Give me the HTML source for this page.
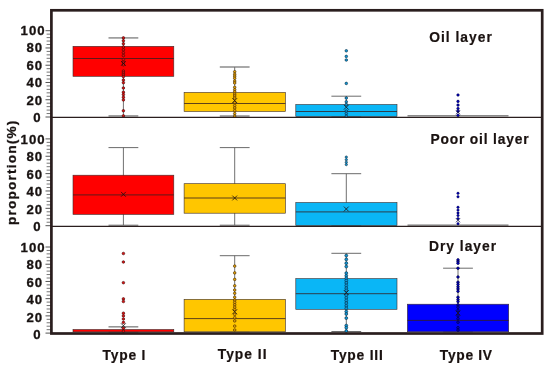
<!DOCTYPE html><html><head><meta charset="utf-8"><style>html,body{margin:0;padding:0;background:#fff}svg{display:block}text{font-family:"Liberation Sans",Arial,sans-serif;font-weight:bold;fill:#1a1210}</style></head><body>
<svg width="550" height="370" viewBox="0 0 550 370">
<rect width="550" height="370" fill="#fff"/>
<line x1="45.5" x2="51" y1="117.00" y2="117.00" stroke="#555" stroke-width="1"/>
<line x1="46.6" x2="51" y1="113.55" y2="113.55" stroke="#686868" stroke-width="0.9"/>
<line x1="46.6" x2="51" y1="110.10" y2="110.10" stroke="#686868" stroke-width="0.9"/>
<line x1="46.6" x2="51" y1="106.64" y2="106.64" stroke="#686868" stroke-width="0.9"/>
<line x1="46.6" x2="51" y1="103.19" y2="103.19" stroke="#686868" stroke-width="0.9"/>
<line x1="45.5" x2="51" y1="99.74" y2="99.74" stroke="#555" stroke-width="1"/>
<line x1="46.6" x2="51" y1="96.29" y2="96.29" stroke="#686868" stroke-width="0.9"/>
<line x1="46.6" x2="51" y1="92.84" y2="92.84" stroke="#686868" stroke-width="0.9"/>
<line x1="46.6" x2="51" y1="89.38" y2="89.38" stroke="#686868" stroke-width="0.9"/>
<line x1="46.6" x2="51" y1="85.93" y2="85.93" stroke="#686868" stroke-width="0.9"/>
<line x1="45.5" x2="51" y1="82.48" y2="82.48" stroke="#555" stroke-width="1"/>
<line x1="46.6" x2="51" y1="79.03" y2="79.03" stroke="#686868" stroke-width="0.9"/>
<line x1="46.6" x2="51" y1="75.58" y2="75.58" stroke="#686868" stroke-width="0.9"/>
<line x1="46.6" x2="51" y1="72.12" y2="72.12" stroke="#686868" stroke-width="0.9"/>
<line x1="46.6" x2="51" y1="68.67" y2="68.67" stroke="#686868" stroke-width="0.9"/>
<line x1="45.5" x2="51" y1="65.22" y2="65.22" stroke="#555" stroke-width="1"/>
<line x1="46.6" x2="51" y1="61.77" y2="61.77" stroke="#686868" stroke-width="0.9"/>
<line x1="46.6" x2="51" y1="58.32" y2="58.32" stroke="#686868" stroke-width="0.9"/>
<line x1="46.6" x2="51" y1="54.86" y2="54.86" stroke="#686868" stroke-width="0.9"/>
<line x1="46.6" x2="51" y1="51.41" y2="51.41" stroke="#686868" stroke-width="0.9"/>
<line x1="45.5" x2="51" y1="47.96" y2="47.96" stroke="#555" stroke-width="1"/>
<line x1="46.6" x2="51" y1="44.51" y2="44.51" stroke="#686868" stroke-width="0.9"/>
<line x1="46.6" x2="51" y1="41.06" y2="41.06" stroke="#686868" stroke-width="0.9"/>
<line x1="46.6" x2="51" y1="37.60" y2="37.60" stroke="#686868" stroke-width="0.9"/>
<line x1="46.6" x2="51" y1="34.15" y2="34.15" stroke="#686868" stroke-width="0.9"/>
<line x1="45.5" x2="51" y1="30.70" y2="30.70" stroke="#555" stroke-width="1"/>
<text x="20.5" y="35.05" font-size="13.2" letter-spacing="1.1" stroke="#111" stroke-width="0.3">100</text>
<text x="26.4" y="51.65" font-size="13.2" letter-spacing="1.1" stroke="#111" stroke-width="0.3">80</text>
<text x="26.4" y="69.65" font-size="13.2" letter-spacing="1.1" stroke="#111" stroke-width="0.3">60</text>
<text x="26.4" y="86.65" font-size="13.2" letter-spacing="1.1" stroke="#111" stroke-width="0.3">40</text>
<text x="26.4" y="104.75" font-size="13.2" letter-spacing="1.1" stroke="#111" stroke-width="0.3">20</text>
<text x="33.2" y="121.65" font-size="13.2" letter-spacing="1.1" stroke="#111" stroke-width="0.3">0</text>
<line x1="45.5" x2="51" y1="225.70" y2="225.70" stroke="#555" stroke-width="1"/>
<line x1="46.6" x2="51" y1="222.23" y2="222.23" stroke="#686868" stroke-width="0.9"/>
<line x1="46.6" x2="51" y1="218.76" y2="218.76" stroke="#686868" stroke-width="0.9"/>
<line x1="46.6" x2="51" y1="215.28" y2="215.28" stroke="#686868" stroke-width="0.9"/>
<line x1="46.6" x2="51" y1="211.81" y2="211.81" stroke="#686868" stroke-width="0.9"/>
<line x1="45.5" x2="51" y1="208.34" y2="208.34" stroke="#555" stroke-width="1"/>
<line x1="46.6" x2="51" y1="204.87" y2="204.87" stroke="#686868" stroke-width="0.9"/>
<line x1="46.6" x2="51" y1="201.40" y2="201.40" stroke="#686868" stroke-width="0.9"/>
<line x1="46.6" x2="51" y1="197.92" y2="197.92" stroke="#686868" stroke-width="0.9"/>
<line x1="46.6" x2="51" y1="194.45" y2="194.45" stroke="#686868" stroke-width="0.9"/>
<line x1="45.5" x2="51" y1="190.98" y2="190.98" stroke="#555" stroke-width="1"/>
<line x1="46.6" x2="51" y1="187.51" y2="187.51" stroke="#686868" stroke-width="0.9"/>
<line x1="46.6" x2="51" y1="184.04" y2="184.04" stroke="#686868" stroke-width="0.9"/>
<line x1="46.6" x2="51" y1="180.56" y2="180.56" stroke="#686868" stroke-width="0.9"/>
<line x1="46.6" x2="51" y1="177.09" y2="177.09" stroke="#686868" stroke-width="0.9"/>
<line x1="45.5" x2="51" y1="173.62" y2="173.62" stroke="#555" stroke-width="1"/>
<line x1="46.6" x2="51" y1="170.15" y2="170.15" stroke="#686868" stroke-width="0.9"/>
<line x1="46.6" x2="51" y1="166.68" y2="166.68" stroke="#686868" stroke-width="0.9"/>
<line x1="46.6" x2="51" y1="163.20" y2="163.20" stroke="#686868" stroke-width="0.9"/>
<line x1="46.6" x2="51" y1="159.73" y2="159.73" stroke="#686868" stroke-width="0.9"/>
<line x1="45.5" x2="51" y1="156.26" y2="156.26" stroke="#555" stroke-width="1"/>
<line x1="46.6" x2="51" y1="152.79" y2="152.79" stroke="#686868" stroke-width="0.9"/>
<line x1="46.6" x2="51" y1="149.32" y2="149.32" stroke="#686868" stroke-width="0.9"/>
<line x1="46.6" x2="51" y1="145.84" y2="145.84" stroke="#686868" stroke-width="0.9"/>
<line x1="46.6" x2="51" y1="142.37" y2="142.37" stroke="#686868" stroke-width="0.9"/>
<line x1="45.5" x2="51" y1="138.90" y2="138.90" stroke="#555" stroke-width="1"/>
<text x="20.5" y="144.35" font-size="13.2" letter-spacing="1.1" stroke="#111" stroke-width="0.3">100</text>
<text x="26.4" y="160.95" font-size="13.2" letter-spacing="1.1" stroke="#111" stroke-width="0.3">80</text>
<text x="26.4" y="178.95" font-size="13.2" letter-spacing="1.1" stroke="#111" stroke-width="0.3">60</text>
<text x="26.4" y="195.95" font-size="13.2" letter-spacing="1.1" stroke="#111" stroke-width="0.3">40</text>
<text x="26.4" y="214.05" font-size="13.2" letter-spacing="1.1" stroke="#111" stroke-width="0.3">20</text>
<text x="33.2" y="230.95" font-size="13.2" letter-spacing="1.1" stroke="#111" stroke-width="0.3">0</text>
<line x1="45.5" x2="51" y1="333.10" y2="333.10" stroke="#555" stroke-width="1"/>
<line x1="46.6" x2="51" y1="329.66" y2="329.66" stroke="#686868" stroke-width="0.9"/>
<line x1="46.6" x2="51" y1="326.21" y2="326.21" stroke="#686868" stroke-width="0.9"/>
<line x1="46.6" x2="51" y1="322.77" y2="322.77" stroke="#686868" stroke-width="0.9"/>
<line x1="46.6" x2="51" y1="319.32" y2="319.32" stroke="#686868" stroke-width="0.9"/>
<line x1="45.5" x2="51" y1="315.88" y2="315.88" stroke="#555" stroke-width="1"/>
<line x1="46.6" x2="51" y1="312.44" y2="312.44" stroke="#686868" stroke-width="0.9"/>
<line x1="46.6" x2="51" y1="308.99" y2="308.99" stroke="#686868" stroke-width="0.9"/>
<line x1="46.6" x2="51" y1="305.55" y2="305.55" stroke="#686868" stroke-width="0.9"/>
<line x1="46.6" x2="51" y1="302.10" y2="302.10" stroke="#686868" stroke-width="0.9"/>
<line x1="45.5" x2="51" y1="298.66" y2="298.66" stroke="#555" stroke-width="1"/>
<line x1="46.6" x2="51" y1="295.22" y2="295.22" stroke="#686868" stroke-width="0.9"/>
<line x1="46.6" x2="51" y1="291.77" y2="291.77" stroke="#686868" stroke-width="0.9"/>
<line x1="46.6" x2="51" y1="288.33" y2="288.33" stroke="#686868" stroke-width="0.9"/>
<line x1="46.6" x2="51" y1="284.88" y2="284.88" stroke="#686868" stroke-width="0.9"/>
<line x1="45.5" x2="51" y1="281.44" y2="281.44" stroke="#555" stroke-width="1"/>
<line x1="46.6" x2="51" y1="278.00" y2="278.00" stroke="#686868" stroke-width="0.9"/>
<line x1="46.6" x2="51" y1="274.55" y2="274.55" stroke="#686868" stroke-width="0.9"/>
<line x1="46.6" x2="51" y1="271.11" y2="271.11" stroke="#686868" stroke-width="0.9"/>
<line x1="46.6" x2="51" y1="267.66" y2="267.66" stroke="#686868" stroke-width="0.9"/>
<line x1="45.5" x2="51" y1="264.22" y2="264.22" stroke="#555" stroke-width="1"/>
<line x1="46.6" x2="51" y1="260.78" y2="260.78" stroke="#686868" stroke-width="0.9"/>
<line x1="46.6" x2="51" y1="257.33" y2="257.33" stroke="#686868" stroke-width="0.9"/>
<line x1="46.6" x2="51" y1="253.89" y2="253.89" stroke="#686868" stroke-width="0.9"/>
<line x1="46.6" x2="51" y1="250.44" y2="250.44" stroke="#686868" stroke-width="0.9"/>
<line x1="45.5" x2="51" y1="247.00" y2="247.00" stroke="#555" stroke-width="1"/>
<text x="20.5" y="252.35" font-size="13.2" letter-spacing="1.1" stroke="#111" stroke-width="0.3">100</text>
<text x="26.4" y="268.95" font-size="13.2" letter-spacing="1.1" stroke="#111" stroke-width="0.3">80</text>
<text x="26.4" y="286.95" font-size="13.2" letter-spacing="1.1" stroke="#111" stroke-width="0.3">60</text>
<text x="26.4" y="303.95" font-size="13.2" letter-spacing="1.1" stroke="#111" stroke-width="0.3">40</text>
<text x="26.4" y="322.05" font-size="13.2" letter-spacing="1.1" stroke="#111" stroke-width="0.3">20</text>
<text x="33.2" y="338.95" font-size="13.2" letter-spacing="1.1" stroke="#111" stroke-width="0.3">0</text>
<line x1="123.4" x2="123.4" y1="37.9" y2="115.9" stroke="#707070" stroke-width="1.0"/>
<line x1="108.5" x2="138.3" y1="37.9" y2="37.9" stroke="#959595" stroke-width="1.6"/>
<line x1="108.5" x2="138.3" y1="115.9" y2="115.9" stroke="#959595" stroke-width="1.6"/>
<rect x="73.0" y="46.3" width="100.8" height="30.0" fill="#ff0000" stroke="#3a2c2c" stroke-width="0.6"/>
<line x1="73.0" x2="173.8" y1="58.5" y2="58.5" stroke="#352020" stroke-width="0.8"/>
<circle cx="123.4" cy="37.9" r="1.3" fill="#e01010" stroke="#3a0808" stroke-width="0.6"/>
<circle cx="123.4" cy="40.8" r="1.3" fill="#e01010" stroke="#3a0808" stroke-width="0.6"/>
<circle cx="123.4" cy="43.8" r="1.3" fill="#e01010" stroke="#3a0808" stroke-width="0.6"/>
<circle cx="123.4" cy="47" r="1.3" fill="#e01010" stroke="#3a0808" stroke-width="0.6"/>
<circle cx="123.4" cy="49.8" r="1.3" fill="#e01010" stroke="#3a0808" stroke-width="0.6"/>
<circle cx="123.4" cy="52.7" r="1.3" fill="#e01010" stroke="#3a0808" stroke-width="0.6"/>
<circle cx="123.4" cy="55.6" r="1.3" fill="#e01010" stroke="#3a0808" stroke-width="0.6"/>
<circle cx="123.4" cy="59.6" r="1.3" fill="#e01010" stroke="#3a0808" stroke-width="0.6"/>
<circle cx="123.4" cy="62.4" r="1.3" fill="#e01010" stroke="#3a0808" stroke-width="0.6"/>
<circle cx="123.4" cy="64.8" r="1.3" fill="#e01010" stroke="#3a0808" stroke-width="0.6"/>
<circle cx="123.4" cy="71.1" r="1.3" fill="#e01010" stroke="#3a0808" stroke-width="0.6"/>
<circle cx="123.4" cy="73.1" r="1.3" fill="#e01010" stroke="#3a0808" stroke-width="0.6"/>
<circle cx="123.4" cy="74.9" r="1.3" fill="#e01010" stroke="#3a0808" stroke-width="0.6"/>
<circle cx="123.4" cy="76.6" r="1.3" fill="#e01010" stroke="#3a0808" stroke-width="0.6"/>
<circle cx="123.4" cy="80.1" r="1.3" fill="#e01010" stroke="#3a0808" stroke-width="0.6"/>
<circle cx="123.4" cy="82.7" r="1.3" fill="#e01010" stroke="#3a0808" stroke-width="0.6"/>
<circle cx="123.4" cy="88" r="1.3" fill="#e01010" stroke="#3a0808" stroke-width="0.6"/>
<circle cx="123.4" cy="92.2" r="1.3" fill="#e01010" stroke="#3a0808" stroke-width="0.6"/>
<circle cx="123.4" cy="94.6" r="1.3" fill="#e01010" stroke="#3a0808" stroke-width="0.6"/>
<circle cx="123.4" cy="97.3" r="1.3" fill="#e01010" stroke="#3a0808" stroke-width="0.6"/>
<circle cx="123.4" cy="99.9" r="1.3" fill="#e01010" stroke="#3a0808" stroke-width="0.6"/>
<circle cx="123.4" cy="110.8" r="1.3" fill="#e01010" stroke="#3a0808" stroke-width="0.6"/>
<circle cx="123.4" cy="115.9" r="1.3" fill="#e01010" stroke="#3a0808" stroke-width="0.6"/>
<path d="M121.0 61.0L125.80000000000001 65.8M121.0 65.8L125.80000000000001 61.0" stroke="#1a1010" stroke-width="0.8" fill="none"/>
<line x1="234.7" x2="234.7" y1="67.0" y2="116.0" stroke="#707070" stroke-width="1.0"/>
<line x1="219.79999999999998" x2="249.6" y1="67.0" y2="67.0" stroke="#707070" stroke-width="1.2"/>
<line x1="219.79999999999998" x2="249.6" y1="116.0" y2="116.0" stroke="#959595" stroke-width="1.6"/>
<rect x="184.1" y="92.4" width="101.3" height="19.1" fill="#ffc600" stroke="#3a2c2c" stroke-width="0.6"/>
<line x1="184.1" x2="285.4" y1="103.5" y2="103.5" stroke="#352020" stroke-width="0.8"/>
<circle cx="234.7" cy="71.7" r="1.3" fill="#eaa400" stroke="#3a2404" stroke-width="0.6"/>
<circle cx="234.7" cy="74.3" r="1.3" fill="#eaa400" stroke="#3a2404" stroke-width="0.6"/>
<circle cx="234.7" cy="76.2" r="1.3" fill="#eaa400" stroke="#3a2404" stroke-width="0.6"/>
<circle cx="234.7" cy="78.3" r="1.3" fill="#eaa400" stroke="#3a2404" stroke-width="0.6"/>
<circle cx="234.7" cy="81.1" r="1.3" fill="#eaa400" stroke="#3a2404" stroke-width="0.6"/>
<circle cx="234.7" cy="83" r="1.3" fill="#eaa400" stroke="#3a2404" stroke-width="0.6"/>
<circle cx="234.7" cy="87.3" r="1.3" fill="#eaa400" stroke="#3a2404" stroke-width="0.6"/>
<circle cx="234.7" cy="89.7" r="1.3" fill="#eaa400" stroke="#3a2404" stroke-width="0.6"/>
<circle cx="234.7" cy="91.8" r="1.3" fill="#eaa400" stroke="#3a2404" stroke-width="0.6"/>
<circle cx="234.7" cy="94.1" r="1.3" fill="#eaa400" stroke="#3a2404" stroke-width="0.6"/>
<circle cx="234.7" cy="96" r="1.3" fill="#eaa400" stroke="#3a2404" stroke-width="0.6"/>
<circle cx="234.7" cy="98.1" r="1.3" fill="#eaa400" stroke="#3a2404" stroke-width="0.6"/>
<circle cx="234.7" cy="102.5" r="1.3" fill="#eaa400" stroke="#3a2404" stroke-width="0.6"/>
<circle cx="234.7" cy="105.5" r="1.3" fill="#eaa400" stroke="#3a2404" stroke-width="0.6"/>
<circle cx="234.7" cy="107.9" r="1.3" fill="#eaa400" stroke="#3a2404" stroke-width="0.6"/>
<circle cx="234.7" cy="110.6" r="1.3" fill="#eaa400" stroke="#3a2404" stroke-width="0.6"/>
<circle cx="234.7" cy="113.6" r="1.3" fill="#eaa400" stroke="#3a2404" stroke-width="0.6"/>
<circle cx="234.7" cy="116.2" r="1.3" fill="#eaa400" stroke="#3a2404" stroke-width="0.6"/>
<path d="M232.29999999999998 98.19999999999999L237.1 103.0M232.29999999999998 103.0L237.1 98.19999999999999" stroke="#1a1010" stroke-width="0.8" fill="none"/>
<line x1="346.3" x2="346.3" y1="96.2" y2="116.2" stroke="#707070" stroke-width="1.0"/>
<line x1="331.40000000000003" x2="361.2" y1="96.2" y2="96.2" stroke="#5a5a5a" stroke-width="0.9"/>
<line x1="331.40000000000003" x2="361.2" y1="116.2" y2="116.2" stroke="#959595" stroke-width="1.6"/>
<rect x="295.8" y="104.5" width="101.2" height="12.1" fill="#0ab6f6" stroke="#3a2c2c" stroke-width="0.6"/>
<line x1="295.8" x2="397.0" y1="111.5" y2="111.5" stroke="#352020" stroke-width="0.8"/>
<circle cx="346.3" cy="50.8" r="1.3" fill="#1098d8" stroke="#06283c" stroke-width="0.6"/>
<circle cx="346.3" cy="56.4" r="1.3" fill="#1098d8" stroke="#06283c" stroke-width="0.6"/>
<circle cx="346.3" cy="60" r="1.3" fill="#1098d8" stroke="#06283c" stroke-width="0.6"/>
<circle cx="346.3" cy="83.4" r="1.3" fill="#1098d8" stroke="#06283c" stroke-width="0.6"/>
<circle cx="346.3" cy="98" r="1.3" fill="#1098d8" stroke="#06283c" stroke-width="0.6"/>
<circle cx="346.3" cy="101.8" r="1.3" fill="#1098d8" stroke="#06283c" stroke-width="0.6"/>
<circle cx="346.3" cy="104.5" r="1.3" fill="#1098d8" stroke="#06283c" stroke-width="0.6"/>
<circle cx="346.3" cy="111" r="1.3" fill="#1098d8" stroke="#06283c" stroke-width="0.6"/>
<circle cx="346.3" cy="113.6" r="1.3" fill="#1098d8" stroke="#06283c" stroke-width="0.6"/>
<circle cx="346.3" cy="116.2" r="1.3" fill="#1098d8" stroke="#06283c" stroke-width="0.6"/>
<path d="M343.90000000000003 104.8L348.7 109.60000000000001M343.90000000000003 109.60000000000001L348.7 104.8" stroke="#1a1010" stroke-width="0.8" fill="none"/>
<line x1="407.5" x2="508.5" y1="115.8" y2="115.8" stroke="#8a8a8a" stroke-width="1.6"/>
<circle cx="458.0" cy="95" r="1.3" fill="#0000b8" stroke="#000040" stroke-width="0.45"/>
<circle cx="458.0" cy="101.4" r="1.3" fill="#0000b8" stroke="#000040" stroke-width="0.45"/>
<circle cx="458.0" cy="105.1" r="1.3" fill="#0000b8" stroke="#000040" stroke-width="0.45"/>
<circle cx="458.0" cy="108.6" r="1.3" fill="#0000b8" stroke="#000040" stroke-width="0.45"/>
<circle cx="458.0" cy="111.2" r="1.3" fill="#0000b8" stroke="#000040" stroke-width="0.45"/>
<circle cx="458.0" cy="115.4" r="1.3" fill="#0000b8" stroke="#000040" stroke-width="0.45"/>
<path d="M456.0 110.3L460.0 114.3M456.0 114.3L460.0 110.3" stroke="#000040" stroke-width="0.8" fill="none"/>
<line x1="123.4" x2="123.4" y1="147.6" y2="225.2" stroke="#707070" stroke-width="1.0"/>
<line x1="108.5" x2="138.3" y1="147.6" y2="147.6" stroke="#5a5a5a" stroke-width="0.9"/>
<line x1="108.5" x2="138.3" y1="225.2" y2="225.2" stroke="#5a5a5a" stroke-width="0.9"/>
<rect x="73.0" y="175.2" width="100.8" height="39.2" fill="#ff0000" stroke="#3a2c2c" stroke-width="0.6"/>
<line x1="73.0" x2="173.8" y1="194.9" y2="194.9" stroke="#352020" stroke-width="0.8"/>
<path d="M121.0 191.9L125.80000000000001 196.70000000000002M121.0 196.70000000000002L125.80000000000001 191.9" stroke="#1a1010" stroke-width="0.8" fill="none"/>
<line x1="234.7" x2="234.7" y1="147.6" y2="225.2" stroke="#707070" stroke-width="1.0"/>
<line x1="219.79999999999998" x2="249.6" y1="147.6" y2="147.6" stroke="#5a5a5a" stroke-width="0.9"/>
<line x1="219.79999999999998" x2="249.6" y1="225.2" y2="225.2" stroke="#5a5a5a" stroke-width="0.9"/>
<rect x="184.1" y="183.7" width="101.3" height="29.5" fill="#ffc600" stroke="#3a2c2c" stroke-width="0.6"/>
<line x1="184.1" x2="285.4" y1="198.0" y2="198.0" stroke="#352020" stroke-width="0.8"/>
<path d="M232.29999999999998 195.6L237.1 200.4M232.29999999999998 200.4L237.1 195.6" stroke="#1a1010" stroke-width="0.8" fill="none"/>
<line x1="346.3" x2="346.3" y1="173.7" y2="225.3" stroke="#707070" stroke-width="1.0"/>
<line x1="331.40000000000003" x2="361.2" y1="173.7" y2="173.7" stroke="#5a5a5a" stroke-width="0.9"/>
<line x1="331.40000000000003" x2="361.2" y1="225.3" y2="225.3" stroke="#5a5a5a" stroke-width="0.9"/>
<rect x="295.8" y="202.5" width="101.2" height="23.1" fill="#0ab6f6" stroke="#3a2c2c" stroke-width="0.6"/>
<line x1="295.8" x2="397.0" y1="211.9" y2="211.9" stroke="#352020" stroke-width="0.8"/>
<circle cx="346.3" cy="157.1" r="1.15" fill="#1098d8" stroke="#06283c" stroke-width="0.6"/>
<circle cx="346.3" cy="159.7" r="1.15" fill="#1098d8" stroke="#06283c" stroke-width="0.6"/>
<circle cx="346.3" cy="162.3" r="1.15" fill="#1098d8" stroke="#06283c" stroke-width="0.6"/>
<circle cx="346.3" cy="164.6" r="1.15" fill="#1098d8" stroke="#06283c" stroke-width="0.6"/>
<path d="M343.90000000000003 206.6L348.7 211.4M343.90000000000003 211.4L348.7 206.6" stroke="#1a1010" stroke-width="0.8" fill="none"/>
<line x1="407.5" x2="508.5" y1="225.1" y2="225.1" stroke="#555" stroke-width="1.0"/>
<circle cx="458.0" cy="193.3" r="1.2" fill="#0000b8" stroke="#000040" stroke-width="0.45"/>
<circle cx="458.0" cy="196.8" r="1.2" fill="#0000b8" stroke="#000040" stroke-width="0.45"/>
<circle cx="458.0" cy="207.3" r="1.2" fill="#0000b8" stroke="#000040" stroke-width="0.45"/>
<circle cx="458.0" cy="210.1" r="1.2" fill="#0000b8" stroke="#000040" stroke-width="0.45"/>
<circle cx="458.0" cy="212.9" r="1.2" fill="#0000b8" stroke="#000040" stroke-width="0.45"/>
<circle cx="458.0" cy="215.5" r="1.2" fill="#0000b8" stroke="#000040" stroke-width="0.45"/>
<circle cx="458.0" cy="218.6" r="1.2" fill="#0000b8" stroke="#000040" stroke-width="0.45"/>
<circle cx="458.0" cy="223.8" r="1.2" fill="#0000b8" stroke="#000040" stroke-width="0.45"/>
<path d="M456.0 218.3L460.0 222.3M456.0 222.3L460.0 218.3" stroke="#000040" stroke-width="0.8" fill="none"/>
<line x1="123.4" x2="123.4" y1="326.8" y2="332.0" stroke="#707070" stroke-width="1.0"/>
<line x1="108.5" x2="138.3" y1="326.8" y2="326.8" stroke="#959595" stroke-width="1.6"/>
<line x1="108.5" x2="138.3" y1="332.0" y2="332.0" stroke="#5a5a5a" stroke-width="0.9"/>
<rect x="73.0" y="329.5" width="100.8" height="2.4" fill="#ff0000" stroke="#3a2c2c" stroke-width="0.6"/>
<circle cx="123.4" cy="253.5" r="1.3" fill="#e01010" stroke="#3a0808" stroke-width="0.6"/>
<circle cx="123.4" cy="262" r="1.3" fill="#e01010" stroke="#3a0808" stroke-width="0.6"/>
<circle cx="123.4" cy="282.7" r="1.3" fill="#e01010" stroke="#3a0808" stroke-width="0.6"/>
<circle cx="123.4" cy="298.9" r="1.3" fill="#e01010" stroke="#3a0808" stroke-width="0.6"/>
<circle cx="123.4" cy="301.5" r="1.3" fill="#e01010" stroke="#3a0808" stroke-width="0.6"/>
<circle cx="123.4" cy="313.2" r="1.3" fill="#e01010" stroke="#3a0808" stroke-width="0.6"/>
<circle cx="123.4" cy="315.9" r="1.3" fill="#e01010" stroke="#3a0808" stroke-width="0.6"/>
<circle cx="123.4" cy="319" r="1.3" fill="#e01010" stroke="#3a0808" stroke-width="0.6"/>
<circle cx="123.4" cy="322.4" r="1.3" fill="#e01010" stroke="#3a0808" stroke-width="0.6"/>
<circle cx="123.4" cy="328.3" r="1.3" fill="#e01010" stroke="#3a0808" stroke-width="0.6"/>
<circle cx="123.4" cy="331.2" r="1.3" fill="#e01010" stroke="#3a0808" stroke-width="0.6"/>
<path d="M121.0 323.3L125.80000000000001 328.09999999999997M121.0 328.09999999999997L125.80000000000001 323.3" stroke="#1a1010" stroke-width="0.8" fill="none"/>
<line x1="234.7" x2="234.7" y1="255.7" y2="331.8" stroke="#707070" stroke-width="1.0"/>
<line x1="219.79999999999998" x2="249.6" y1="255.7" y2="255.7" stroke="#5a5a5a" stroke-width="0.9"/>
<line x1="219.79999999999998" x2="249.6" y1="331.8" y2="331.8" stroke="#5a5a5a" stroke-width="0.9"/>
<rect x="184.1" y="299.3" width="101.3" height="32.5" fill="#ffc600" stroke="#3a2c2c" stroke-width="0.6"/>
<line x1="184.1" x2="285.4" y1="318.6" y2="318.6" stroke="#352020" stroke-width="0.8"/>
<circle cx="234.7" cy="266.1" r="1.3" fill="#eaa400" stroke="#3a2404" stroke-width="0.6"/>
<circle cx="234.7" cy="272.9" r="1.3" fill="#eaa400" stroke="#3a2404" stroke-width="0.6"/>
<circle cx="234.7" cy="279.4" r="1.3" fill="#eaa400" stroke="#3a2404" stroke-width="0.6"/>
<circle cx="234.7" cy="285.8" r="1.3" fill="#eaa400" stroke="#3a2404" stroke-width="0.6"/>
<circle cx="234.7" cy="290" r="1.3" fill="#eaa400" stroke="#3a2404" stroke-width="0.6"/>
<circle cx="234.7" cy="293.3" r="1.3" fill="#eaa400" stroke="#3a2404" stroke-width="0.6"/>
<circle cx="234.7" cy="297.2" r="1.3" fill="#eaa400" stroke="#3a2404" stroke-width="0.6"/>
<circle cx="234.7" cy="300.1" r="1.3" fill="#eaa400" stroke="#3a2404" stroke-width="0.6"/>
<circle cx="234.7" cy="302.4" r="1.3" fill="#eaa400" stroke="#3a2404" stroke-width="0.6"/>
<circle cx="234.7" cy="304.8" r="1.3" fill="#eaa400" stroke="#3a2404" stroke-width="0.6"/>
<circle cx="234.7" cy="307.2" r="1.3" fill="#eaa400" stroke="#3a2404" stroke-width="0.6"/>
<circle cx="234.7" cy="309.6" r="1.3" fill="#eaa400" stroke="#3a2404" stroke-width="0.6"/>
<circle cx="234.7" cy="314.4" r="1.3" fill="#eaa400" stroke="#3a2404" stroke-width="0.6"/>
<circle cx="234.7" cy="317.7" r="1.3" fill="#eaa400" stroke="#3a2404" stroke-width="0.6"/>
<circle cx="234.7" cy="320.9" r="1.3" fill="#eaa400" stroke="#3a2404" stroke-width="0.6"/>
<circle cx="234.7" cy="326.1" r="1.3" fill="#eaa400" stroke="#3a2404" stroke-width="0.6"/>
<circle cx="234.7" cy="330" r="1.3" fill="#eaa400" stroke="#3a2404" stroke-width="0.6"/>
<path d="M232.29999999999998 309.40000000000003L237.1 314.2M232.29999999999998 314.2L237.1 309.40000000000003" stroke="#1a1010" stroke-width="0.8" fill="none"/>
<line x1="346.3" x2="346.3" y1="253.3" y2="331.5" stroke="#707070" stroke-width="1.0"/>
<line x1="331.40000000000003" x2="361.2" y1="253.3" y2="253.3" stroke="#5a5a5a" stroke-width="0.9"/>
<line x1="331.40000000000003" x2="361.2" y1="331.5" y2="331.5" stroke="#5a5a5a" stroke-width="0.9"/>
<rect x="295.8" y="278.6" width="101.2" height="30.7" fill="#0ab6f6" stroke="#3a2c2c" stroke-width="0.6"/>
<line x1="295.8" x2="397.0" y1="293.7" y2="293.7" stroke="#352020" stroke-width="0.8"/>
<circle cx="346.3" cy="255.6" r="1.45" fill="#1098d8" stroke="#06283c" stroke-width="0.6"/>
<circle cx="346.3" cy="259.4" r="1.45" fill="#1098d8" stroke="#06283c" stroke-width="0.6"/>
<circle cx="346.3" cy="263.2" r="1.45" fill="#1098d8" stroke="#06283c" stroke-width="0.6"/>
<circle cx="346.3" cy="266.6" r="1.45" fill="#1098d8" stroke="#06283c" stroke-width="0.6"/>
<circle cx="346.3" cy="273.1" r="1.45" fill="#1098d8" stroke="#06283c" stroke-width="0.6"/>
<circle cx="346.3" cy="275.8" r="1.45" fill="#1098d8" stroke="#06283c" stroke-width="0.6"/>
<circle cx="346.3" cy="278.3" r="1.45" fill="#1098d8" stroke="#06283c" stroke-width="0.6"/>
<circle cx="346.3" cy="280.6" r="1.45" fill="#1098d8" stroke="#06283c" stroke-width="0.6"/>
<circle cx="346.3" cy="282.9" r="1.45" fill="#1098d8" stroke="#06283c" stroke-width="0.6"/>
<circle cx="346.3" cy="285.5" r="1.45" fill="#1098d8" stroke="#06283c" stroke-width="0.6"/>
<circle cx="346.3" cy="288.2" r="1.45" fill="#1098d8" stroke="#06283c" stroke-width="0.6"/>
<circle cx="346.3" cy="290.5" r="1.45" fill="#1098d8" stroke="#06283c" stroke-width="0.6"/>
<circle cx="346.3" cy="295.2" r="1.45" fill="#1098d8" stroke="#06283c" stroke-width="0.6"/>
<circle cx="346.3" cy="297.8" r="1.45" fill="#1098d8" stroke="#06283c" stroke-width="0.6"/>
<circle cx="346.3" cy="300.5" r="1.45" fill="#1098d8" stroke="#06283c" stroke-width="0.6"/>
<circle cx="346.3" cy="303.1" r="1.45" fill="#1098d8" stroke="#06283c" stroke-width="0.6"/>
<circle cx="346.3" cy="305.8" r="1.45" fill="#1098d8" stroke="#06283c" stroke-width="0.6"/>
<circle cx="346.3" cy="308.4" r="1.45" fill="#1098d8" stroke="#06283c" stroke-width="0.6"/>
<circle cx="346.3" cy="311.6" r="1.45" fill="#1098d8" stroke="#06283c" stroke-width="0.6"/>
<circle cx="346.3" cy="314" r="1.45" fill="#1098d8" stroke="#06283c" stroke-width="0.6"/>
<circle cx="346.3" cy="318.1" r="1.45" fill="#1098d8" stroke="#06283c" stroke-width="0.6"/>
<circle cx="346.3" cy="325.6" r="1.45" fill="#1098d8" stroke="#06283c" stroke-width="0.6"/>
<circle cx="346.3" cy="327.7" r="1.45" fill="#1098d8" stroke="#06283c" stroke-width="0.6"/>
<circle cx="346.3" cy="331.0" r="1.45" fill="#1098d8" stroke="#06283c" stroke-width="0.6"/>
<path d="M343.90000000000003 290.20000000000005L348.7 295.0M343.90000000000003 295.0L348.7 290.20000000000005" stroke="#1a1010" stroke-width="0.8" fill="none"/>
<line x1="458.0" x2="458.0" y1="268.2" y2="331.8" stroke="#707070" stroke-width="1.0"/>
<line x1="443.1" x2="472.9" y1="268.2" y2="268.2" stroke="#5a5a5a" stroke-width="0.9"/>
<line x1="443.1" x2="472.9" y1="331.8" y2="331.8" stroke="#5a5a5a" stroke-width="0.9"/>
<rect x="407.4" y="304.2" width="101.3" height="27.6" fill="#0000ff" stroke="#3a2c2c" stroke-width="0.6"/>
<line x1="407.4" x2="508.7" y1="320.4" y2="320.4" stroke="#352020" stroke-width="0.8"/>
<circle cx="458.0" cy="259.9" r="1.3" fill="#0000c8" stroke="#000030" stroke-width="0.6"/>
<circle cx="458.0" cy="261.6" r="1.3" fill="#0000c8" stroke="#000030" stroke-width="0.6"/>
<circle cx="458.0" cy="263.3" r="1.3" fill="#0000c8" stroke="#000030" stroke-width="0.6"/>
<circle cx="458.0" cy="268.2" r="1.3" fill="#0000c8" stroke="#000030" stroke-width="0.6"/>
<circle cx="458.0" cy="277" r="1.3" fill="#0000c8" stroke="#000030" stroke-width="0.6"/>
<circle cx="458.0" cy="282.2" r="1.3" fill="#0000c8" stroke="#000030" stroke-width="0.6"/>
<circle cx="458.0" cy="284.4" r="1.3" fill="#0000c8" stroke="#000030" stroke-width="0.6"/>
<circle cx="458.0" cy="286.8" r="1.3" fill="#0000c8" stroke="#000030" stroke-width="0.6"/>
<circle cx="458.0" cy="288.9" r="1.3" fill="#0000c8" stroke="#000030" stroke-width="0.6"/>
<circle cx="458.0" cy="291.3" r="1.3" fill="#0000c8" stroke="#000030" stroke-width="0.6"/>
<circle cx="458.0" cy="297.2" r="1.3" fill="#0000c8" stroke="#000030" stroke-width="0.6"/>
<circle cx="458.0" cy="299.6" r="1.3" fill="#0000c8" stroke="#000030" stroke-width="0.6"/>
<circle cx="458.0" cy="301.6" r="1.3" fill="#0000c8" stroke="#000030" stroke-width="0.6"/>
<circle cx="458.0" cy="304.9" r="1.3" fill="#0000c8" stroke="#000030" stroke-width="0.6"/>
<circle cx="458.0" cy="307.2" r="1.3" fill="#0000c8" stroke="#000030" stroke-width="0.6"/>
<circle cx="458.0" cy="310.3" r="1.3" fill="#0000c8" stroke="#000030" stroke-width="0.6"/>
<circle cx="458.0" cy="315.8" r="1.3" fill="#0000c8" stroke="#000030" stroke-width="0.6"/>
<circle cx="458.0" cy="318.7" r="1.3" fill="#0000c8" stroke="#000030" stroke-width="0.6"/>
<circle cx="458.0" cy="322.2" r="1.3" fill="#0000c8" stroke="#000030" stroke-width="0.6"/>
<circle cx="458.0" cy="327.7" r="1.3" fill="#0000c8" stroke="#000030" stroke-width="0.6"/>
<circle cx="458.0" cy="330.1" r="1.3" fill="#0000c8" stroke="#000030" stroke-width="0.6"/>
<path d="M455.6 310.6L460.4 315.4M455.6 315.4L460.4 310.6" stroke="#1a1010" stroke-width="0.8" fill="none"/>
<line x1="51" x2="542" y1="117.35" y2="117.35" stroke="#2a1e1e" stroke-width="1.25"/>
<line x1="51" x2="542" y1="226.3" y2="226.3" stroke="#2a1e1e" stroke-width="1.2"/>
<rect x="51.4" y="10.3" width="490.8" height="323.2" fill="none" stroke="#2a1e1e" stroke-width="2.7"/>
<text x="429.3" y="41.7" font-size="13.8" letter-spacing="1.0" stroke="#1a1210" stroke-width="0.2">Oil layer</text>
<text x="430.4" y="144.3" font-size="13.8" letter-spacing="0.83" stroke="#1a1210" stroke-width="0.2">Poor oil layer</text>
<text x="429.0" y="250.6" font-size="13.8" letter-spacing="1.0" stroke="#1a1210" stroke-width="0.2">Dry layer</text>
<text x="102.5" y="360.1" font-size="13.8" letter-spacing="0.8" stroke="#1a1210" stroke-width="0.2">Type I</text>
<text x="217.8" y="359.0" font-size="13.8" letter-spacing="1.0" stroke="#1a1210" stroke-width="0.2">Type II</text>
<text x="330.7" y="360.4" font-size="13.8" letter-spacing="0.8" stroke="#1a1210" stroke-width="0.2">Type III</text>
<text x="439.8" y="360.4" font-size="13.8" letter-spacing="0.7" stroke="#1a1210" stroke-width="0.2">Type IV</text>
<text transform="translate(16.2 172.2) rotate(-90)" font-size="13.7" letter-spacing="1.15" text-anchor="middle" stroke="#111" stroke-width="0.3">proportion(%)</text>
</svg></body></html>
